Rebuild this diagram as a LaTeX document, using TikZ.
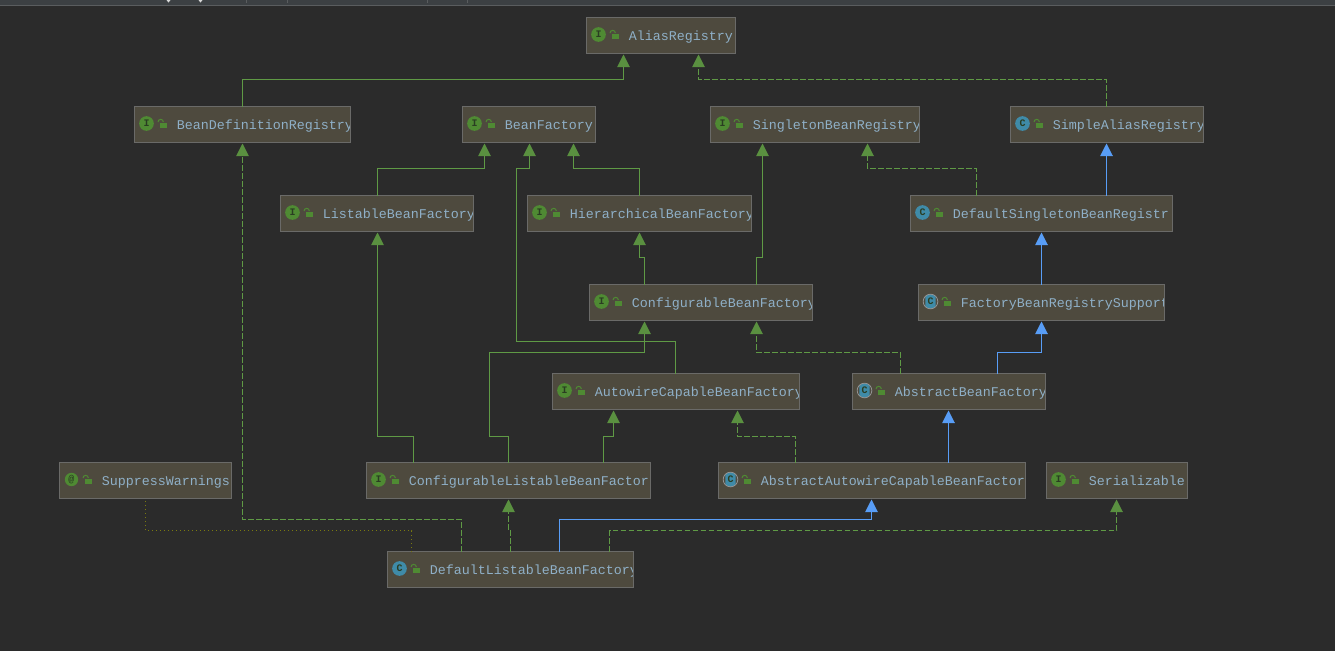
\documentclass[tikz,border=0pt]{standalone}
\usepackage{fontspec}
\setmonofont{Liberation Mono}
\usetikzlibrary{arrows.meta}
\definecolor{bgc}{HTML}{2B2B2B}
\definecolor{barc}{HTML}{3C4043}
\definecolor{barl}{HTML}{5A5D5F}
\definecolor{boxf}{HTML}{4E4A3E}
\definecolor{boxl}{HTML}{6A6A68}
\definecolor{txtc}{HTML}{8FB0C8}
\definecolor{igreen}{HTML}{4F8A33}
\definecolor{iblue}{HTML}{3F8BA8}
\definecolor{lineg}{HTML}{5F9A45}
\definecolor{tipg}{HTML}{5A9040}
\definecolor{lineb}{HTML}{589DF6}
\definecolor{olive}{HTML}{7A7A10}
\definecolor{iconink}{HTML}{2A3D22}
\tikzset{
  x=0.75pt,y=-0.75pt,
  umlboxst/.style={draw=boxl,fill=boxf,line width=0.75pt,inner sep=0pt,outer sep=0pt,anchor=north west},
  labelst/.style={text=txtc,font=\ttfamily\fontsize{10}{12}\selectfont,anchor=base west,inner sep=0pt},
  icon/.style={circle,inner sep=0pt,minimum size=11pt,text=iconink,font=\ttfamily\bfseries\fontsize{7.5}{8}\selectfont},
  kindI/.style={icon,fill=igreen},
  kindC/.style={icon,fill=iblue},
  kindAt/.style={icon,fill=igreen,minimum size=10pt},
  kindA/.style={icon,draw=gray!85,line width=0.6pt,fill=boxf,
    path picture={\fill[iblue,rounded corners=1.5pt] ([xshift=-3.8pt,yshift=-6pt]path picture bounding box.center) rectangle ([xshift=3.8pt,yshift=6pt]path picture bounding box.center);}},
  ext/.style={draw=lineg,line width=0.75pt,-{Triangle[width=9.5pt,length=9.5pt,fill=tipg,color=tipg]}},
  impl/.style={ext,dash pattern=on 4.2pt off 1.8pt},
  blueext/.style={draw=lineb,line width=0.75pt,-{Triangle[width=9.5pt,length=9.5pt,fill=lineb,color=lineb]}},
  dep/.style={draw=olive,line width=0.75pt,dash pattern=on 0.75pt off 2.25pt},
}
% name, x1, y1, x2, y2, icon style, icon letter, text
\newcommand{\umlbox}[8]{%
  \pgfmathsetmacro{\bw}{(#4-#2)*0.75}\pgfmathsetmacro{\bh}{(#5-#3)*0.75}%
  \node[umlboxst,minimum width=\bw pt,minimum height=\bh pt] (#1) at (#2,#3) {};
  \node[#6] (#1-i) at (#2+12,#3+17) {#7};
  \draw[igreen,line width=0.75pt] (#2+23.5,#3+15.5) arc[start angle=180,end angle=0,radius=2pt];
  \fill[igreen] (#2+25,#3+16.5) rectangle (#2+32,#3+21.5);
  \begin{scope}
    \clip (#2,#3) rectangle (#4-1,#5);
    \node[labelst] (#1-t) at (#2+42,#3+23) {#8};
  \end{scope}
}
\begin{document}
\begin{tikzpicture}
\useasboundingbox (0,0) rectangle (1335,651);
\fill[bgc] (0,0) rectangle (1335,651);
% top bar
\fill[barc] (0,0) rectangle (1335,5);
\draw[barl,line width=0.75pt] (0,5.5) -- (1335,5.5);
\foreach \xx in {246.5,287.5,427.5,467.5} \draw[barl,line width=0.6pt] (\xx,0) -- (\xx,3);
\foreach \xx in {168.5,200.5} \fill[white!85!black] (\xx-2,0) -- (\xx+2,0) -- (\xx,2.5) -- cycle;

\begin{scope}[shift={(-0.5,-0.5)}]
\umlbox{ar}{587}{18}{736}{54}{kindI}{I}{AliasRegistry}
\umlbox{bdr}{135}{107}{351}{143}{kindI}{I}{BeanDefinitionRegistry}
\umlbox{bf}{463}{107}{596}{143}{kindI}{I}{BeanFactory}
\umlbox{sbr}{711}{107}{920}{143}{kindI}{I}{SingletonBeanRegistry}
\umlbox{sar}{1011}{107}{1204}{143}{kindC}{C}{SimpleAliasRegistry}
\umlbox{lbf}{281}{196}{474}{232}{kindI}{I}{ListableBeanFactory}
\umlbox{hbf}{528}{196}{752}{232}{kindI}{I}{HierarchicalBeanFactory}
\umlbox{dsbr}{911}{196}{1173}{232}{kindC}{C}{DefaultSingletonBeanRegistr}
\umlbox{cbf}{590}{285}{813}{321}{kindI}{I}{ConfigurableBeanFactory}
\umlbox{fbrs}{919}{285}{1165}{321}{kindA}{C}{FactoryBeanRegistrySupport}
\umlbox{acbf}{553}{374}{800}{410}{kindI}{I}{AutowireCapableBeanFactory}
\umlbox{abf}{853}{374}{1046}{410}{kindA}{C}{AbstractBeanFactory}
\umlbox{sw}{60}{463}{232}{499}{kindAt}{@}{SuppressWarnings}
\umlbox{clbf}{367}{463}{651}{499}{kindI}{I}{ConfigurableListableBeanFactor}
\umlbox{aacbf}{719}{463}{1026}{499}{kindA}{C}{AbstractAutowireCapableBeanFactor}
\umlbox{ser}{1047}{463}{1188}{499}{kindI}{I}{Serializable}
\umlbox{dlbf}{388}{552}{634}{588}{kindC}{C}{DefaultListableBeanFactory}

% ports on the box edges
\coordinate (ar-a) at (624,55);
\coordinate (ar-b) at (699,55);
\coordinate (bdr-s) at (243,144);
\coordinate (bf-a) at (485,144);
\coordinate (bf-b) at (530,144);
\coordinate (bf-c) at (574,144);
\coordinate (sbr-a) at (763,144);
\coordinate (sbr-b) at (868,144);
\coordinate (sar-n) at (1107,107);
\coordinate (sar-s) at (1107,144);
\coordinate (lbf-n) at (378,196);
\coordinate (lbf-s) at (378,233);
\coordinate (hbf-n) at (640,196);
\coordinate (hbf-s) at (640,233);
\coordinate (dsbr-a) at (977,196);
\coordinate (dsbr-b) at (1107,196);
\coordinate (dsbr-c) at (1042,233);
\coordinate (cbf-a) at (645,285);
\coordinate (cbf-b) at (757,285);
\coordinate (cbf-c) at (645,322);
\coordinate (cbf-d) at (757,322);
\coordinate (fbrs-c) at (1042,322);
\coordinate (acbf-a) at (676,374);
\coordinate (acbf-b) at (614,411);
\coordinate (acbf-c) at (738,411);
\coordinate (abf-a) at (901,374);
\coordinate (abf-b) at (998,374);
\coordinate (abf-c) at (949,411);
\coordinate (clbf-a) at (414,463);
\coordinate (clbf-b) at (509,463);
\coordinate (clbf-c) at (604,463);
\coordinate (clbf-d) at (509,500);
\coordinate (aacbf-a) at (796,463);
\coordinate (aacbf-b) at (949,463);
\coordinate (aacbf-c) at (872,500);
\coordinate (ser-c) at (1117,500);
\coordinate (sw-c) at (146,499);
\coordinate (dlbf-a) at (412,552);
\coordinate (dlbf-b) at (462,552);
\coordinate (dlbf-c) at (511,552);
\coordinate (dlbf-d) at (560,552);
\coordinate (dlbf-e) at (610,552);

\draw[ext] (bdr.north) -- (243,80) -- (624,80) -- (ar-a);
\draw[impl] (sar-n) -- (1107,80) -- (699,80) -- (ar-b);
\draw[ext] (lbf-n) -- (378,169) -- (485,169) -- (bf-a);
\draw[ext] (hbf-n) -- (640,169) -- (574,169) -- (bf-c);
\draw[ext] (acbf-a) -- (676,342) -- (517,342) -- (517,169) -- (530,169) -- (bf-b);
\draw[ext] (cbf-a) -- (645,258) -- (640,258) -- (hbf-s);
\draw[ext] (cbf-b) -- (757,258) -- (763,258) -- (sbr-a);
\draw[impl] (dsbr-a) -- (977,169) -- (868,169) -- (sbr-b);
\draw[blueext] (dsbr-b) -- (sar-s);
\draw[blueext] (fbrs.north) -- (dsbr-c);
\draw[blueext] (abf-b) -- (998,353) -- (1042,353) -- (fbrs-c);
\draw[impl] (abf-a) -- (901,353) -- (757,353) -- (cbf-d);
\draw[ext] (clbf-a) -- (414,437) -- (378,437) -- (lbf-s);
\draw[ext] (clbf-b) -- (509,437) -- (490,437) -- (490,353) -- (645,353) -- (cbf-c);
\draw[ext] (clbf-c) -- (604,437) -- (614,437) -- (acbf-b);
\draw[impl] (aacbf-a) -- (796,437) -- (738,437) -- (acbf-c);
\draw[blueext] (aacbf-b) -- (abf-c);
\draw[blueext] (dlbf-d) -- (560,520) -- (872,520) -- (aacbf-c);
\draw[impl] (dlbf-e) -- (610,531) -- (1117,531) -- (ser-c);
\draw[impl] (dlbf-c) -- (511,531) -- (509,531) -- (clbf-d);
\draw[impl] (dlbf-b) -- (462,520) -- (243,520) -- (bdr-s);
\draw[dep] (dlbf-a) -- (412,531) -- (146,531) -- (sw-c);
\end{scope}
\end{tikzpicture}
\end{document}
